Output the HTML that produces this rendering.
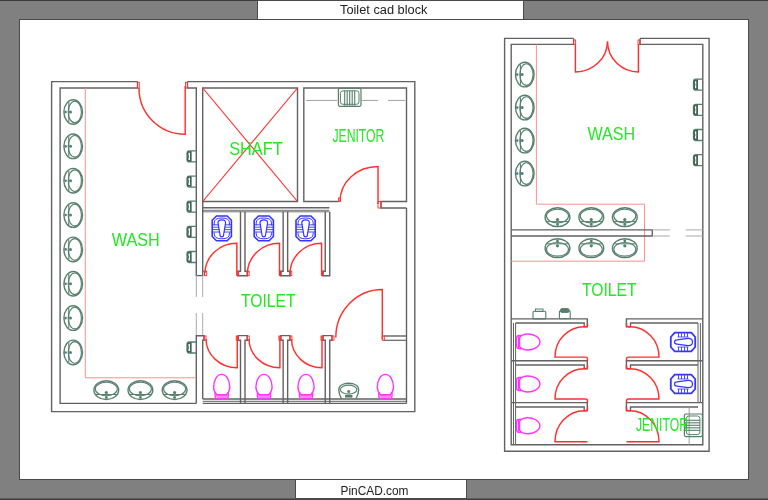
<!DOCTYPE html>
<html><head><meta charset="utf-8"><style>
html,body{margin:0;padding:0;width:768px;height:500px;overflow:hidden;background:#808080}
svg{display:block;font-family:"Liberation Sans",sans-serif;will-change:transform}
</style></head><body>
<svg width="768" height="500" viewBox="0 0 768 500">

<defs>
 <g id="sinkV" fill="none" stroke="#567f6e">
  <ellipse cx="0" cy="0" rx="9.3" ry="12.3" stroke-width="1.4"/>
  <ellipse cx="1.6" cy="0" rx="6.6" ry="10.8" stroke-width="1.1"/>
  <line x1="-4.4" y1="-10.2" x2="-4.4" y2="10.2" stroke-width="1.1"/>
  <circle cx="-7.6" cy="0" r="1.3" fill="#567f6e" stroke="none"/>
  <circle cx="-2.7" cy="0" r="1.5" fill="#567f6e" stroke="none"/>
 </g>
 <g id="sinkHd" fill="none" stroke="#567f6e">
  <ellipse cx="0" cy="0" rx="12.4" ry="9.4" stroke-width="1.4"/>
  <ellipse cx="0" cy="-1.1" rx="11" ry="6.8" stroke-width="1.1"/>
  <line x1="-10.9" y1="4.4" x2="10.9" y2="4.4" stroke-width="1"/>
  <circle cx="0" cy="2.4" r="1.6" fill="#567f6e" stroke="none"/>
  <circle cx="0" cy="7.3" r="1.4" fill="#567f6e" stroke="none"/>
 </g>
 <g id="sinkHu" transform="scale(1,-1)"><use href="#sinkHd"/></g>
 <g id="urinalL" fill="none" stroke="#567f6e" stroke-width="1.3">
  <path d="M0,-5.5 L-7,-5.5 Q-9.3,-5.5 -9.3,-2.8 L-9.3,2.8 Q-9.3,5.5 -7,5.5 L0,5.5"/>
  <path d="M-5.6,-4.3 L-7.4,-4.3 Q-8.8,-4.3 -8.6,-2.2 L-8.1,0 L-8.6,2.2 Q-8.8,4.3 -7.4,4.3 L-5.6,4.3 Z" stroke-width="1.5" stroke="#3f6454"/>
  <line x1="-5.6" y1="-5.2" x2="-5.6" y2="5.2" stroke-width="1.3" stroke="#3f6454"/>
 </g>
 <g id="squatV" fill="none" stroke="#3535ff">
  <polygon points="-5.3,-12.4 5.3,-12.4 9.6,-8.1 9.6,8.1 5.3,12.4 -5.3,12.4 -9.6,8.1 -9.6,-8.1" stroke-width="1.6"/>
  <path d="M-7.6,-3 L-7.6,-5.5 Q-7.6,-10.4 0,-10.4 Q7.6,-10.4 7.6,-5.5 L7.6,-3" stroke-width="1"/>
  <path d="M-7.6,4 L-7.6,5.5 Q-7.6,10.4 0,10.4 Q7.6,10.4 7.6,5.5 L7.6,4" stroke-width="1"/>
  <path d="M-3.8,-5.5 Q-3.8,-8.6 0,-8.6 Q3.8,-8.6 3.8,-5.5 L1.6,7.6 Q0,9.4 -1.6,7.6 Z" stroke-width="1.2"/>
  <line x1="-9.4" y1="-3.6" x2="-3.4" y2="-3.6" stroke-width="0.9"/>
  <line x1="-9.4" y1="-1.2" x2="-3" y2="-1.2" stroke-width="0.9"/>
  <line x1="-9.4" y1="1.2" x2="-2.6" y2="1.2" stroke-width="0.9"/>
  <line x1="-9.4" y1="3.6" x2="-2.2" y2="3.6" stroke-width="0.9"/>
  <line x1="9.4" y1="-3.6" x2="3.4" y2="-3.6" stroke-width="0.9"/>
  <line x1="9.4" y1="-1.2" x2="3" y2="-1.2" stroke-width="0.9"/>
  <line x1="9.4" y1="1.2" x2="2.6" y2="1.2" stroke-width="0.9"/>
  <line x1="9.4" y1="3.6" x2="2.2" y2="3.6" stroke-width="0.9"/>
 </g>
 <g id="westU" fill="none" stroke="#ff35ff">
  <path d="M0,-12.4 C5.3,-12.4 8.1,-5.5 8.1,0.5 C8.1,4.5 6,6.8 4.8,8 L-4.8,8 C-6,6.8 -8.1,4.5 -8.1,0.5 C-8.1,-5.5 -5.3,-12.4 0,-12.4 Z" stroke-width="1.4"/>
  <path d="M-6.6,5 L-6.6,10 Q-6,12.2 -3,12.2 L3,12.2 Q6,12.2 6.6,10 L6.6,5" stroke-width="1.3"/>
  <line x1="-6" y1="9.2" x2="6" y2="9.2" stroke-width="1.2"/>
  <line x1="-5" y1="11" x2="5" y2="11" stroke-width="0.9"/>
 </g>
 <g id="westL" fill="none" stroke="#ff35ff">
  <path d="M11.4,0 C11.4,4.8 5,8 -1,8 C-5,8 -8,5.6 -9,4.5 L-9,-4.5 C-8,-5.6 -5,-8 -1,-8 C5,-8 11.4,-4.8 11.4,0 Z" stroke-width="1.4"/>
  <path d="M-7,-6.5 L-10.5,-6.5 Q-12,-6 -12,-3 L-12,3 Q-12,6 -10.5,6.5 L-7,6.5" stroke-width="1.3"/>
  <line x1="-10" y1="-6" x2="-10" y2="6" stroke-width="1.2"/>
 </g>
 <g id="squatH" fill="none" stroke="#3535ff">
  <polygon points="-12.2,-5 -12.2,5 -8.3,9.4 8.3,9.4 12.2,5 12.2,-5 8.3,-9.4 -8.3,-9.4" stroke-width="1.8"/>
  <path d="M-8.5,0 Q-8.5,-2 -6,-2.2 L5,-3.6 Q9.5,-3.8 9.5,0 Q9.5,3.8 5,3.6 L-6,2.2 Q-8.5,2 -8.5,0 Z" stroke-width="1.2"/>
  <line x1="-4.5" y1="-8.8" x2="-4.5" y2="-5" stroke-width="0.9"/>
  <line x1="-1.5" y1="-8.8" x2="-1.5" y2="-5" stroke-width="0.9"/>
  <line x1="1.5" y1="-8.8" x2="1.5" y2="-5" stroke-width="0.9"/>
  <line x1="4.5" y1="-8.8" x2="4.5" y2="-5" stroke-width="0.9"/>
  <line x1="-4.5" y1="8.8" x2="-4.5" y2="5" stroke-width="0.9"/>
  <line x1="-1.5" y1="8.8" x2="-1.5" y2="5" stroke-width="0.9"/>
  <line x1="1.5" y1="8.8" x2="1.5" y2="5" stroke-width="0.9"/>
  <line x1="4.5" y1="8.8" x2="4.5" y2="5" stroke-width="0.9"/>
  <line x1="-5.5" y1="-5" x2="5.5" y2="-5" stroke-width="0.8"/>
  <line x1="-5.5" y1="5" x2="5.5" y2="5" stroke-width="0.8"/>
 </g>
 <g id="mop" fill="none" stroke="#567f6e">
  <rect x="-11.3" y="-9" width="22.6" height="18" rx="1.5" stroke-width="1.2"/>
  <rect x="-9.3" y="-6.5" width="18.6" height="13.5" rx="2.5" stroke-width="1"/>
  <line x1="-5" y1="-6.5" x2="-5" y2="8.5" stroke-width="1.1"/>
  <line x1="-2.5" y1="-6.5" x2="-2.5" y2="8.5" stroke-width="1.1"/>
  <line x1="0" y1="-6.5" x2="0" y2="8.5" stroke-width="1.1"/>
  <line x1="2.5" y1="-6.5" x2="2.5" y2="8.5" stroke-width="1.1"/>
  <line x1="5" y1="-6.5" x2="5" y2="8.5" stroke-width="1.1"/>
 </g>
</defs>

<rect x="0" y="0" width="768" height="500" fill="#808080"/>
<rect x="0" y="0" width="768" height="1" fill="#3c3c3c"/>
<rect x="0" y="498.5" width="768" height="1.5" fill="#3c3c3c"/>
<rect x="19" y="19" width="730" height="461" fill="#4a4a4a"/>
<rect x="20" y="20" width="728" height="459" fill="#ffffff"/>
<rect x="257" y="0" width="267" height="20" fill="#4a4a4a"/>
<rect x="258" y="1" width="265" height="18" fill="#ffffff"/>
<rect x="295" y="479" width="172" height="21" fill="#4a4a4a"/>
<rect x="296" y="480" width="170" height="18" fill="#ffffff"/>
<text x="340" y="14" font-size="12.5" fill="#222" textLength="87.5" lengthAdjust="spacingAndGlyphs">Toilet cad block</text>
<text x="340.5" y="495" font-size="12.5" fill="#222" textLength="68" lengthAdjust="spacingAndGlyphs">PinCAD.com</text>
<g shape-rendering="geometricPrecision">
<polyline points="137.5,81.6 51.6,81.6 51.6,411.6 414.8,411.6 414.8,81.6 187.5,81.6" fill="none" stroke="#626262" stroke-width="1.4"/>
<polyline points="137.5,81.6 137.5,88 60.1,88 60.1,403.4 196.3,403.4" fill="none" stroke="#626262" stroke-width="1.4"/>
<polyline points="187.5,81.6 187.5,88 196.3,88 196.3,275.6 202.7,275.6 202.7,88 297.5,88 297.5,201.5 202.7,201.5" fill="none" stroke="#626262" stroke-width="1.4"/>
<line x1="202.7" y1="88" x2="297.5" y2="201.5" stroke="#ff3030" stroke-width="1.15" />
<line x1="297.5" y1="88" x2="202.7" y2="201.5" stroke="#ff3030" stroke-width="1.15" />
<polyline points="338.5,201.5 303.8,201.5 303.8,88 406.5,88 406.5,201.5 381,201.5 381,208 406.5,208" fill="none" stroke="#626262" stroke-width="1.4"/>
<line x1="306" y1="100.4" x2="337" y2="100.4" stroke="#a0a0a0" stroke-width="1" />
<line x1="362" y1="100.4" x2="378" y2="100.4" stroke="#a0a0a0" stroke-width="1" />
<line x1="388" y1="100.4" x2="405" y2="100.4" stroke="#a0a0a0" stroke-width="1" />
<use href="#mop" x="349.7" y="97.3" />
<path d="M340,201.5 A38,35 0 0 1 378,166.5 L378,204" fill="none" stroke="#ff3030" stroke-width="1.45"/>
<rect x="338.5" y="198" width="2" height="3.5" fill="none" stroke="#ff3030" stroke-width="0.9"/>
<rect x="378" y="201.5" width="3" height="6.5" fill="none" stroke="#ff3030" stroke-width="0.9"/>
<path d="M139,88 A46,46 0 0 0 185.2,134.3 L185.2,86" fill="none" stroke="#ff3030" stroke-width="1.45"/>
<rect x="137.5" y="82.3" width="1.8" height="5.7" fill="none" stroke="#ff3030" stroke-width="0.9"/>
<rect x="185.5" y="82.3" width="2" height="5.7" fill="none" stroke="#ff3030" stroke-width="0.9"/>
<line x1="202.7" y1="207.8" x2="329.4" y2="207.8" stroke="#626262" stroke-width="1.4" />
<line x1="202.7" y1="210.3" x2="329.4" y2="210.3" stroke="#626262" stroke-width="0.9" />
<line x1="202.7" y1="211.8" x2="329.4" y2="211.8" stroke="#626262" stroke-width="0.9" />
<polyline points="240.5,211.8 240.5,271.2 238.05,271.2 238.05,275.7 247.45,275.7 247.45,271.2 245.0,271.2 245.0,211.8" fill="none" stroke="#626262" stroke-width="1.4"/>
<polyline points="283.15,211.8 283.15,271.2 280.7,271.2 280.7,275.7 290.09999999999997,275.7 290.09999999999997,271.2 287.65,271.2 287.65,211.8" fill="none" stroke="#626262" stroke-width="1.4"/>
<polyline points="325.25,211.8 325.25,271.2 322.8,271.2 322.8,275.7 329.75,275.7 329.75,211.8" fill="none" stroke="#626262" stroke-width="1.4"/>
<polyline points="202.7,271.2 204.5,271.2 204.5,275.6" fill="none" stroke="#626262" stroke-width="1"/>
<path d="M205,273 A31.849999999999994,30 0 0 1 236.85,243.3 L236.85,275.5" fill="none" stroke="#ff3030" stroke-width="1.45"/>
<rect x="204.5" y="271.2" width="2.2" height="4.5" fill="none" stroke="#ff3030" stroke-width="0.9"/>
<rect x="236.85" y="271.2" width="1.8" height="4.5" fill="none" stroke="#ff3030" stroke-width="0.9"/>
<path d="M247.5,273 A32.0,30 0 0 1 279.5,243.3 L279.5,275.5" fill="none" stroke="#ff3030" stroke-width="1.45"/>
<rect x="247.0" y="271.2" width="2.2" height="4.5" fill="none" stroke="#ff3030" stroke-width="0.9"/>
<rect x="279.5" y="271.2" width="1.8" height="4.5" fill="none" stroke="#ff3030" stroke-width="0.9"/>
<path d="M290.1,273 A31.5,30 0 0 1 321.6,243.3 L321.6,275.5" fill="none" stroke="#ff3030" stroke-width="1.45"/>
<rect x="289.6" y="271.2" width="2.2" height="4.5" fill="none" stroke="#ff3030" stroke-width="0.9"/>
<rect x="321.6" y="271.2" width="1.8" height="4.5" fill="none" stroke="#ff3030" stroke-width="0.9"/>
<use href="#squatV" x="221.8" y="228.4" />
<use href="#squatV" x="263.8" y="228.4" />
<use href="#squatV" x="305.6" y="228.4" />
<line x1="196.3" y1="275.6" x2="196.3" y2="297" stroke="#aaaaaa" stroke-width="1" />
<line x1="196.3" y1="313" x2="196.3" y2="335.8" stroke="#aaaaaa" stroke-width="1" />
<line x1="202.7" y1="275.6" x2="202.7" y2="297" stroke="#aaaaaa" stroke-width="1" />
<line x1="202.7" y1="313" x2="202.7" y2="335.8" stroke="#aaaaaa" stroke-width="1" />
<polyline points="196.3,403.4 196.3,335.8 204,335.8 204,340.2 202.7,340.2 202.7,399" fill="none" stroke="#626262" stroke-width="1.4"/>
<rect x="204" y="336" width="2" height="4.2" fill="none" stroke="#ff3030" stroke-width="0.9"/>
<polyline points="240.5,403.4 240.5,340.2 238.25,340.2 238.25,335.6 247.25,335.6 247.25,340.2 245.0,340.2 245.0,403.4" fill="none" stroke="#626262" stroke-width="1.4"/>
<rect x="236.25" y="336" width="2" height="4.2" fill="none" stroke="#ff3030" stroke-width="0.9"/>
<rect x="247.25" y="336" width="2" height="4.2" fill="none" stroke="#ff3030" stroke-width="0.9"/>
<polyline points="283.15,403.4 283.15,340.2 280.9,340.2 280.9,335.6 289.9,335.6 289.9,340.2 287.65,340.2 287.65,403.4" fill="none" stroke="#626262" stroke-width="1.4"/>
<rect x="278.9" y="336" width="2" height="4.2" fill="none" stroke="#ff3030" stroke-width="0.9"/>
<rect x="289.9" y="336" width="2" height="4.2" fill="none" stroke="#ff3030" stroke-width="0.9"/>
<polyline points="325.25,403.4 325.25,340.2 323.0,340.2 323.0,335.6 332.0,335.6 332.0,340.2 329.75,340.2 329.75,403.4" fill="none" stroke="#626262" stroke-width="1.4"/>
<rect x="321.0" y="336" width="2" height="4.2" fill="none" stroke="#ff3030" stroke-width="0.9"/>
<rect x="332.0" y="336" width="2" height="4.2" fill="none" stroke="#ff3030" stroke-width="0.9"/>
<line x1="202.7" y1="399" x2="406.5" y2="399" stroke="#626262" stroke-width="1.4" />
<line x1="202.7" y1="401.3" x2="406.5" y2="401.3" stroke="#626262" stroke-width="1" />
<line x1="202.7" y1="403.4" x2="406.5" y2="403.4" stroke="#626262" stroke-width="1.4" />
<path d="M206,339 A31.25,29 0 0 0 237.25,367.8 L237.25,336" fill="none" stroke="#ff3030" stroke-width="1.45"/>
<path d="M249,339 A30.899999999999977,29 0 0 0 279.9,367.8 L279.9,336" fill="none" stroke="#ff3030" stroke-width="1.45"/>
<path d="M291.5,339 A30.5,29 0 0 0 322.0,367.8 L322.0,336" fill="none" stroke="#ff3030" stroke-width="1.45"/>
<use href="#westU" x="221.7" y="386.8" />
<use href="#westU" x="264" y="386.8" />
<use href="#westU" x="306" y="386.8" />
<use href="#westU" x="385.4" y="386.8" />
<path d="M341.5,399 C339.5,395.5 338.8,392 338.8,389.8 C338.8,385.6 343,383.3 348.7,383.3 C354.4,383.3 358.6,385.6 358.6,389.8 C358.6,392 357.9,395.5 355.9,399" fill="none" stroke="#567f6e" stroke-width="1.4"/>
<ellipse cx="348.6" cy="389.6" rx="8.2" ry="4.5" fill="none" stroke="#567f6e" stroke-width="1.1"/>
<circle cx="348.7" cy="391.4" r="1.5" fill="#567f6e"/>
<rect x="345" y="395" width="7.4" height="2.6" fill="#567f6e"/>
<path d="M335.8,337.5 A46.5,48 0 0 1 382.3,289.5 L382.3,339.5" fill="none" stroke="#ff3030" stroke-width="1.45"/>
<polyline points="383.5,336 406.5,336" fill="none" stroke="#626262" stroke-width="1.4"/>
<polyline points="383.5,340.3 406.5,340.3" fill="none" stroke="#626262" stroke-width="1.2"/>
<line x1="406.5" y1="208" x2="406.5" y2="403.4" stroke="#626262" stroke-width="1.4" />
<rect x="382.3" y="336" width="2" height="4.3" fill="none" stroke="#ff3030" stroke-width="0.9"/>
<polyline points="85.3,88 85.3,377.8 195.5,377.8" fill="none" stroke="#ff9090" stroke-width="1"/>
<use href="#sinkV" x="73.2" y="112.0" />
<use href="#sinkV" x="73.2" y="146.35" />
<use href="#sinkV" x="73.2" y="180.7" />
<use href="#sinkV" x="73.2" y="215.05" />
<use href="#sinkV" x="73.2" y="249.4" />
<use href="#sinkV" x="73.2" y="283.75" />
<use href="#sinkV" x="73.2" y="318.1" />
<use href="#sinkV" x="73.2" y="352.45000000000005" />
<use href="#sinkHd" x="106.3" y="390.1" />
<use href="#sinkHd" x="140.4" y="390.1" />
<use href="#sinkHd" x="174.6" y="390.1" />
<use href="#urinalL" x="196.3" y="156.4" />
<use href="#urinalL" x="196.3" y="181.55" />
<use href="#urinalL" x="196.3" y="206.7" />
<use href="#urinalL" x="196.3" y="231.85" />
<use href="#urinalL" x="196.3" y="257.0" />
<use href="#urinalL" x="196.3" y="347.5" />
<text x="111.8" y="246.2" font-size="18.06" fill="#22e822" textLength="48" lengthAdjust="spacingAndGlyphs">WASH</text>
<text x="229.2" y="154.8" font-size="18.06" fill="#22e822" textLength="53.5" lengthAdjust="spacingAndGlyphs">SHAFT</text>
<text x="332.4" y="141.8" font-size="18.06" fill="#22e822" textLength="52" lengthAdjust="spacingAndGlyphs">JENITOR</text>
<text x="241" y="306.6" font-size="18.06" fill="#22e822" textLength="54.5" lengthAdjust="spacingAndGlyphs">TOILET</text>
<polyline points="573.6,38.4 504.6,38.4 504.6,451.2 709.1,451.2 709.1,38.4 640,38.4" fill="none" stroke="#626262" stroke-width="1.4"/>
<polyline points="573.6,38.4 573.6,44.4 511.2,44.4 511.2,444.7 702.8,444.7 702.8,44.4 640,44.4 640,38.4" fill="none" stroke="#626262" stroke-width="1.4"/>
<path d="M575.4,44.4 L575.4,72 A32,31 0 0 0 607.5,41.4" fill="none" stroke="#ff3030" stroke-width="1.45"/>
<path d="M638.4,44.4 L638.4,72 A31,31 0 0 1 607.5,41.4" fill="none" stroke="#ff3030" stroke-width="1.45"/>
<rect x="573.6" y="40" width="2" height="4.4" fill="none" stroke="#ff3030" stroke-width="0.9"/>
<rect x="638" y="40" width="2" height="4.4" fill="none" stroke="#ff3030" stroke-width="0.9"/>
<polyline points="536.4,44.4 536.4,204.2 644.5,204.2 644.5,261.2 511.2,261.2" fill="none" stroke="#ff9090" stroke-width="1"/>
<use href="#sinkV" x="524.8" y="74.6" />
<use href="#sinkV" x="524.8" y="107.6" />
<use href="#sinkV" x="524.8" y="140.6" />
<use href="#sinkV" x="524.8" y="173.6" />
<use href="#urinalL" x="702.8" y="84.7" />
<use href="#urinalL" x="702.8" y="109.85" />
<use href="#urinalL" x="702.8" y="135.0" />
<use href="#urinalL" x="702.8" y="160.14999999999998" />
<use href="#sinkHd" x="557.5" y="217.2" />
<use href="#sinkHu" x="557.5" y="248.2" />
<use href="#sinkHd" x="591.3" y="217.2" />
<use href="#sinkHu" x="591.3" y="248.2" />
<use href="#sinkHd" x="624.8" y="217.2" />
<use href="#sinkHu" x="624.8" y="248.2" />
<polyline points="511.2,229.9 652.3,229.9 652.3,236 511.2,236" fill="none" stroke="#626262" stroke-width="1.4"/>
<line x1="652.3" y1="229.9" x2="669.8" y2="229.9" stroke="#aaaaaa" stroke-width="1" />
<line x1="685.7" y1="229.9" x2="702.8" y2="229.9" stroke="#aaaaaa" stroke-width="1" />
<line x1="652.3" y1="236" x2="669.8" y2="236" stroke="#aaaaaa" stroke-width="1" />
<line x1="685.7" y1="236" x2="702.8" y2="236" stroke="#aaaaaa" stroke-width="1" />
<text x="587.4" y="139.6" font-size="18.06" fill="#22e822" textLength="47.7" lengthAdjust="spacingAndGlyphs">WASH</text>
<text x="582" y="295.5" font-size="18.06" fill="#22e822" textLength="54.6" lengthAdjust="spacingAndGlyphs">TOILET</text>
<polyline points="511.2,318.9 587.3,318.9 587.3,326.7 584.2,326.7 584.2,323 515.5,323" fill="none" stroke="#626262" stroke-width="1.4"/>
<polyline points="702.8,318.9 626.4,318.9 626.4,326.7 630.5,326.7 630.5,323 698,323" fill="none" stroke="#626262" stroke-width="1.4"/>
<polyline points="511.2,360.7 587.3,360.7 587.3,368.7 584.2,368.7 584.2,365 515.5,365" fill="none" stroke="#626262" stroke-width="1.4"/>
<polyline points="702.8,360.7 626.4,360.7 626.4,368.7 630.5,368.7 630.5,365 698,365" fill="none" stroke="#626262" stroke-width="1.4"/>
<polyline points="511.2,402.6 587.3,402.6 587.3,410.7 584.2,410.7 584.2,407 515.5,407" fill="none" stroke="#626262" stroke-width="1.4"/>
<polyline points="702.8,402.6 626.4,402.6 626.4,410.7 630.5,410.7 630.5,407 698,407" fill="none" stroke="#626262" stroke-width="1.4"/>
<line x1="513.5" y1="323" x2="513.5" y2="444.7" stroke="#626262" stroke-width="1" />
<line x1="515.6" y1="323" x2="515.6" y2="444.7" stroke="#626262" stroke-width="1" />
<line x1="698" y1="323" x2="698" y2="402.6" stroke="#626262" stroke-width="1" />
<line x1="700.4" y1="323" x2="700.4" y2="402.6" stroke="#626262" stroke-width="1" />
<path d="M587.5,323 L587.5,325.5 Q587.5,326.7 585,326.7 L584.2,326.7 A29.2,30.399999999999967 0 0 0 555,357.09999999999997 L585.5,357.09999999999997 Q587.5,357.09999999999997 587.5,359.09999999999997 L587.5,360.7" fill="none" stroke="#ff3030" stroke-width="1.45"/>
<path d="M626.5,323 L626.5,325.5 Q626.5,326.7 629,326.7 L630,326.7 A29,30.399999999999967 0 0 1 659,357.09999999999997 L628.5,357.09999999999997 Q626.5,357.09999999999997 626.5,359.09999999999997 L626.5,360.7" fill="none" stroke="#ff3030" stroke-width="1.45"/>
<path d="M587.5,365 L587.5,367.5 Q587.5,368.7 585,368.7 L584.2,368.7 A29.2,30.3 0 0 0 555,399.0 L585.5,399.0 Q587.5,399.0 587.5,401.0 L587.5,402.6" fill="none" stroke="#ff3030" stroke-width="1.45"/>
<path d="M626.5,365 L626.5,367.5 Q626.5,368.7 629,368.7 L630,368.7 A29,30.3 0 0 1 659,399.0 L628.5,399.0 Q626.5,399.0 626.5,401.0 L626.5,402.6" fill="none" stroke="#ff3030" stroke-width="1.45"/>
<path d="M587.5,407 L587.5,409.5 Q587.5,410.7 585,410.7 L584.2,410.7 A29.2,31.100000000000012 0 0 0 555,441.8 L585.5,441.8 L587.5,441.8" fill="none" stroke="#ff3030" stroke-width="1.45"/>
<path d="M626.5,407 L626.5,409.5 Q626.5,410.7 629,410.7 L630,410.7 A29,31.100000000000012 0 0 1 659,441.8 L628.5,441.8 L626.5,441.8" fill="none" stroke="#ff3030" stroke-width="1.45"/>
<use href="#westL" x="528.5" y="342" />
<use href="#westL" x="528.5" y="384" />
<use href="#westL" x="528.5" y="425.8" />
<use href="#squatH" x="683" y="342" />
<use href="#squatH" x="683" y="384" />
<line x1="689.2" y1="407" x2="689.2" y2="444.7" stroke="#999" stroke-width="0.9" />
<use href="#mop" x="693.4" y="425.3" transform="rotate(90 693.4 425.3)"/>
<text x="636" y="431.3" font-size="18.06" fill="#22e822" textLength="52" lengthAdjust="spacingAndGlyphs">JENITOR</text>
<rect x="533" y="311.2" width="12.8" height="7.7" rx="1" fill="none" stroke="#567f6e" stroke-width="1.1"/>
<rect x="535.5" y="309" width="7.5" height="2.5" fill="none" stroke="#567f6e" stroke-width="1"/>
<rect x="559.4" y="310.8" width="10.8" height="8" rx="1" fill="none" stroke="#567f6e" stroke-width="1.1"/>
<rect x="560.5" y="308.6" width="8.6" height="3.8" rx="1.5" fill="#567f6e" stroke="#567f6e" stroke-width="1"/>
</g>
</svg>
</body></html>
